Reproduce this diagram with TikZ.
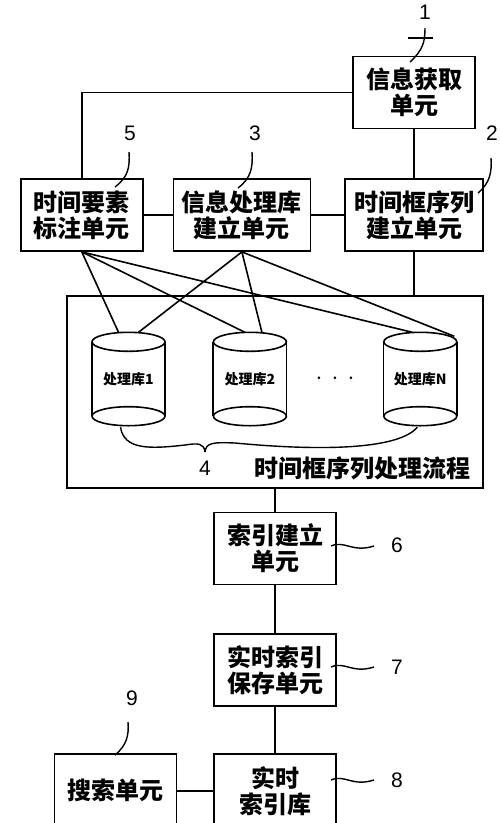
\documentclass[tikz,border=0pt]{standalone}
\usepackage{fontspec}
\newfontfamily\cjk{Noto Sans CJK SC}
\newfontfamily\numfont{Liberation Sans}
\usetikzlibrary{positioning,calc}
\newcommand{\UnitTextSize}{\fontsize{24}{26}\selectfont}
\tikzset{
	unit/.style={draw, line width=1.6pt, minimum width=122pt, minimum height=72pt, inner sep=0pt, align=center, font=\cjk\bfseries\UnitTextSize},
	procdb/.style={minimum width=73pt, minimum height=93pt, inner sep=0pt, font=\cjk\bfseries\fontsize{14}{16}\selectfont},
	refnum/.style={inner sep=0pt, font=\numfont\fontsize{21}{21}\selectfont},
	link/.style={line width=1.6pt},
	leader/.style={line width=1.4pt},
}
\begin{document}
\begin{tikzpicture}[x=1pt, y=-1pt]
	\useasboundingbox (0,0) rectangle (500,823);
	\node[unit] (info) at (414,92.5) {信息获取\\单元};
	\node[unit, minimum width=138pt, below=49pt of info] (frame) {时间框序列\\建立单元};
	\node[unit, minimum width=137pt, left=33pt of frame] (build) {信息处理库\\建立单元};
	\node[unit, left=29pt of build] (mark) {时间要素\\标注单元};
	\node[draw, line width=1.6pt, minimum width=416pt, minimum height=192pt, inner sep=0pt] (flow) at (275,392) {};
	\node[procdb] (db1) at (128.5,379) {处理库1};
	\node[procdb, right=48pt of db1] (db2) {处理库2};
	\node[procdb, right=97pt of db2] (dbn) {处理库N};
	\node[inner sep=0pt, font=\bfseries\fontsize{24}{24}\selectfont] (dots) at ($(db2)!0.5!(dbn)$) {${\cdot}\hspace{9pt}{\cdot}\hspace{9pt}{\cdot}$};
	\node[unit, below=23pt of flow] (index) {索引建立\\单元};
	\node[unit, below=48pt of index] (save) {实时索引\\保存单元};
	\node[unit, minimum height=74pt, below=46pt of save] (lib) {实时\\索引库};
	\node[unit, minimum height=74pt, left=36pt of lib] (search) {搜索单元};

	\foreach \db in {db1,db2,dbn} {
		\draw[link] ($(\db.north)+(0,9.5)$) ellipse [x radius=36.5pt, y radius=9.5pt];
		\draw[link] ($(\db.south)+(0,-9.5)$) ellipse [x radius=36.5pt, y radius=9.5pt];
		\draw[link] ($(\db.north west)+(0,9.5)$) -- ($(\db.south west)+(0,-9.5)$);
		\draw[link] ($(\db.north east)+(0,9.5)$) -- ($(\db.south east)+(0,-9.5)$);
	}

	\draw[link] (info.west) -| (mark.north);
	\draw[link] (info.south) -- (frame.north);
	\draw[link] (mark) -- (build);
	\draw[link] (build) -- (frame);
	\draw[link] (frame.south) -- (frame.south |- flow.north);
	\draw[link] (mark.south) -- ($(db1.north)+(-10,0)$);
	\draw[link] (mark.south) -- ($(db2.north)+(-5,0)$);
	\draw[link] (mark.south) -- ($(dbn.north)+(-8,0)$);
	\draw[link] (build.south) -- ($(db1.north)+(10,0)$);
	\draw[link] (build.south) -- ($(db2.north)+(12,0)$);
	\draw[link] (build.south) -- ($(dbn.north)+(34,4)$);
	\draw[link] (flow.south) -- (index.north);
	\draw[link] (index) -- (save);
	\draw[link] (save) -- (lib);
	\draw[link] (search) -- (lib);

	\coordinate (brL) at ($(db1.south)+(-8,1.5)$);
	\coordinate (brR) at ($(dbn.south)+(-3,1.5)$);
	\coordinate (tip) at (205,452);
	\draw[leader] (brL) .. controls (124,450) and (150,449) .. (185,445) .. controls (198,443) and (204,443) .. (tip);
	\draw[leader] (tip) .. controls (206,443) and (212,442) .. (235,443) .. controls (330,452) and (400,448) .. (brR);
	\node[refnum] (n4) at (205,468) {4};
	\node[inner sep=0pt, font=\cjk\bfseries\UnitTextSize] (flowname) at (362,468) {时间框序列处理流程};

	\node[refnum] (n1) at (425,12) {1};
	\node[refnum] (n5) at (130,133) {5};
	\node[refnum] (n3) at (255,133) {3};
	\node[refnum] (n2) at (492,133) {2};
	\node[refnum] (n6) at (397,545) {6};
	\node[refnum] (n7) at (397,667) {7};
	\node[refnum] (n8) at (397,780) {8};
	\node[refnum] (n9) at (132,698) {9};
	\draw[leader] (410,62) .. controls (423,50) and (425,42) .. (425,28);
	\draw[leader] (408,38) -- (433,38);
	\draw[leader] (115,187) .. controls (128,177) and (130,168) .. (129,152);
	\draw[leader] (238,188) .. controls (251,178) and (253,168) .. (252,152);
	\draw[leader] (478,193) .. controls (490,183) and (492,172) .. (491,158);
	\draw[leader] (115,755) .. controls (127,745) and (129,735) .. (128,722);
	\foreach \y in {546,667,780} {
		\draw[leader] (331,\y) .. controls (345,\y-6) and (352,\y+7) .. (374,\y);
	}
\end{tikzpicture}
\end{document}
